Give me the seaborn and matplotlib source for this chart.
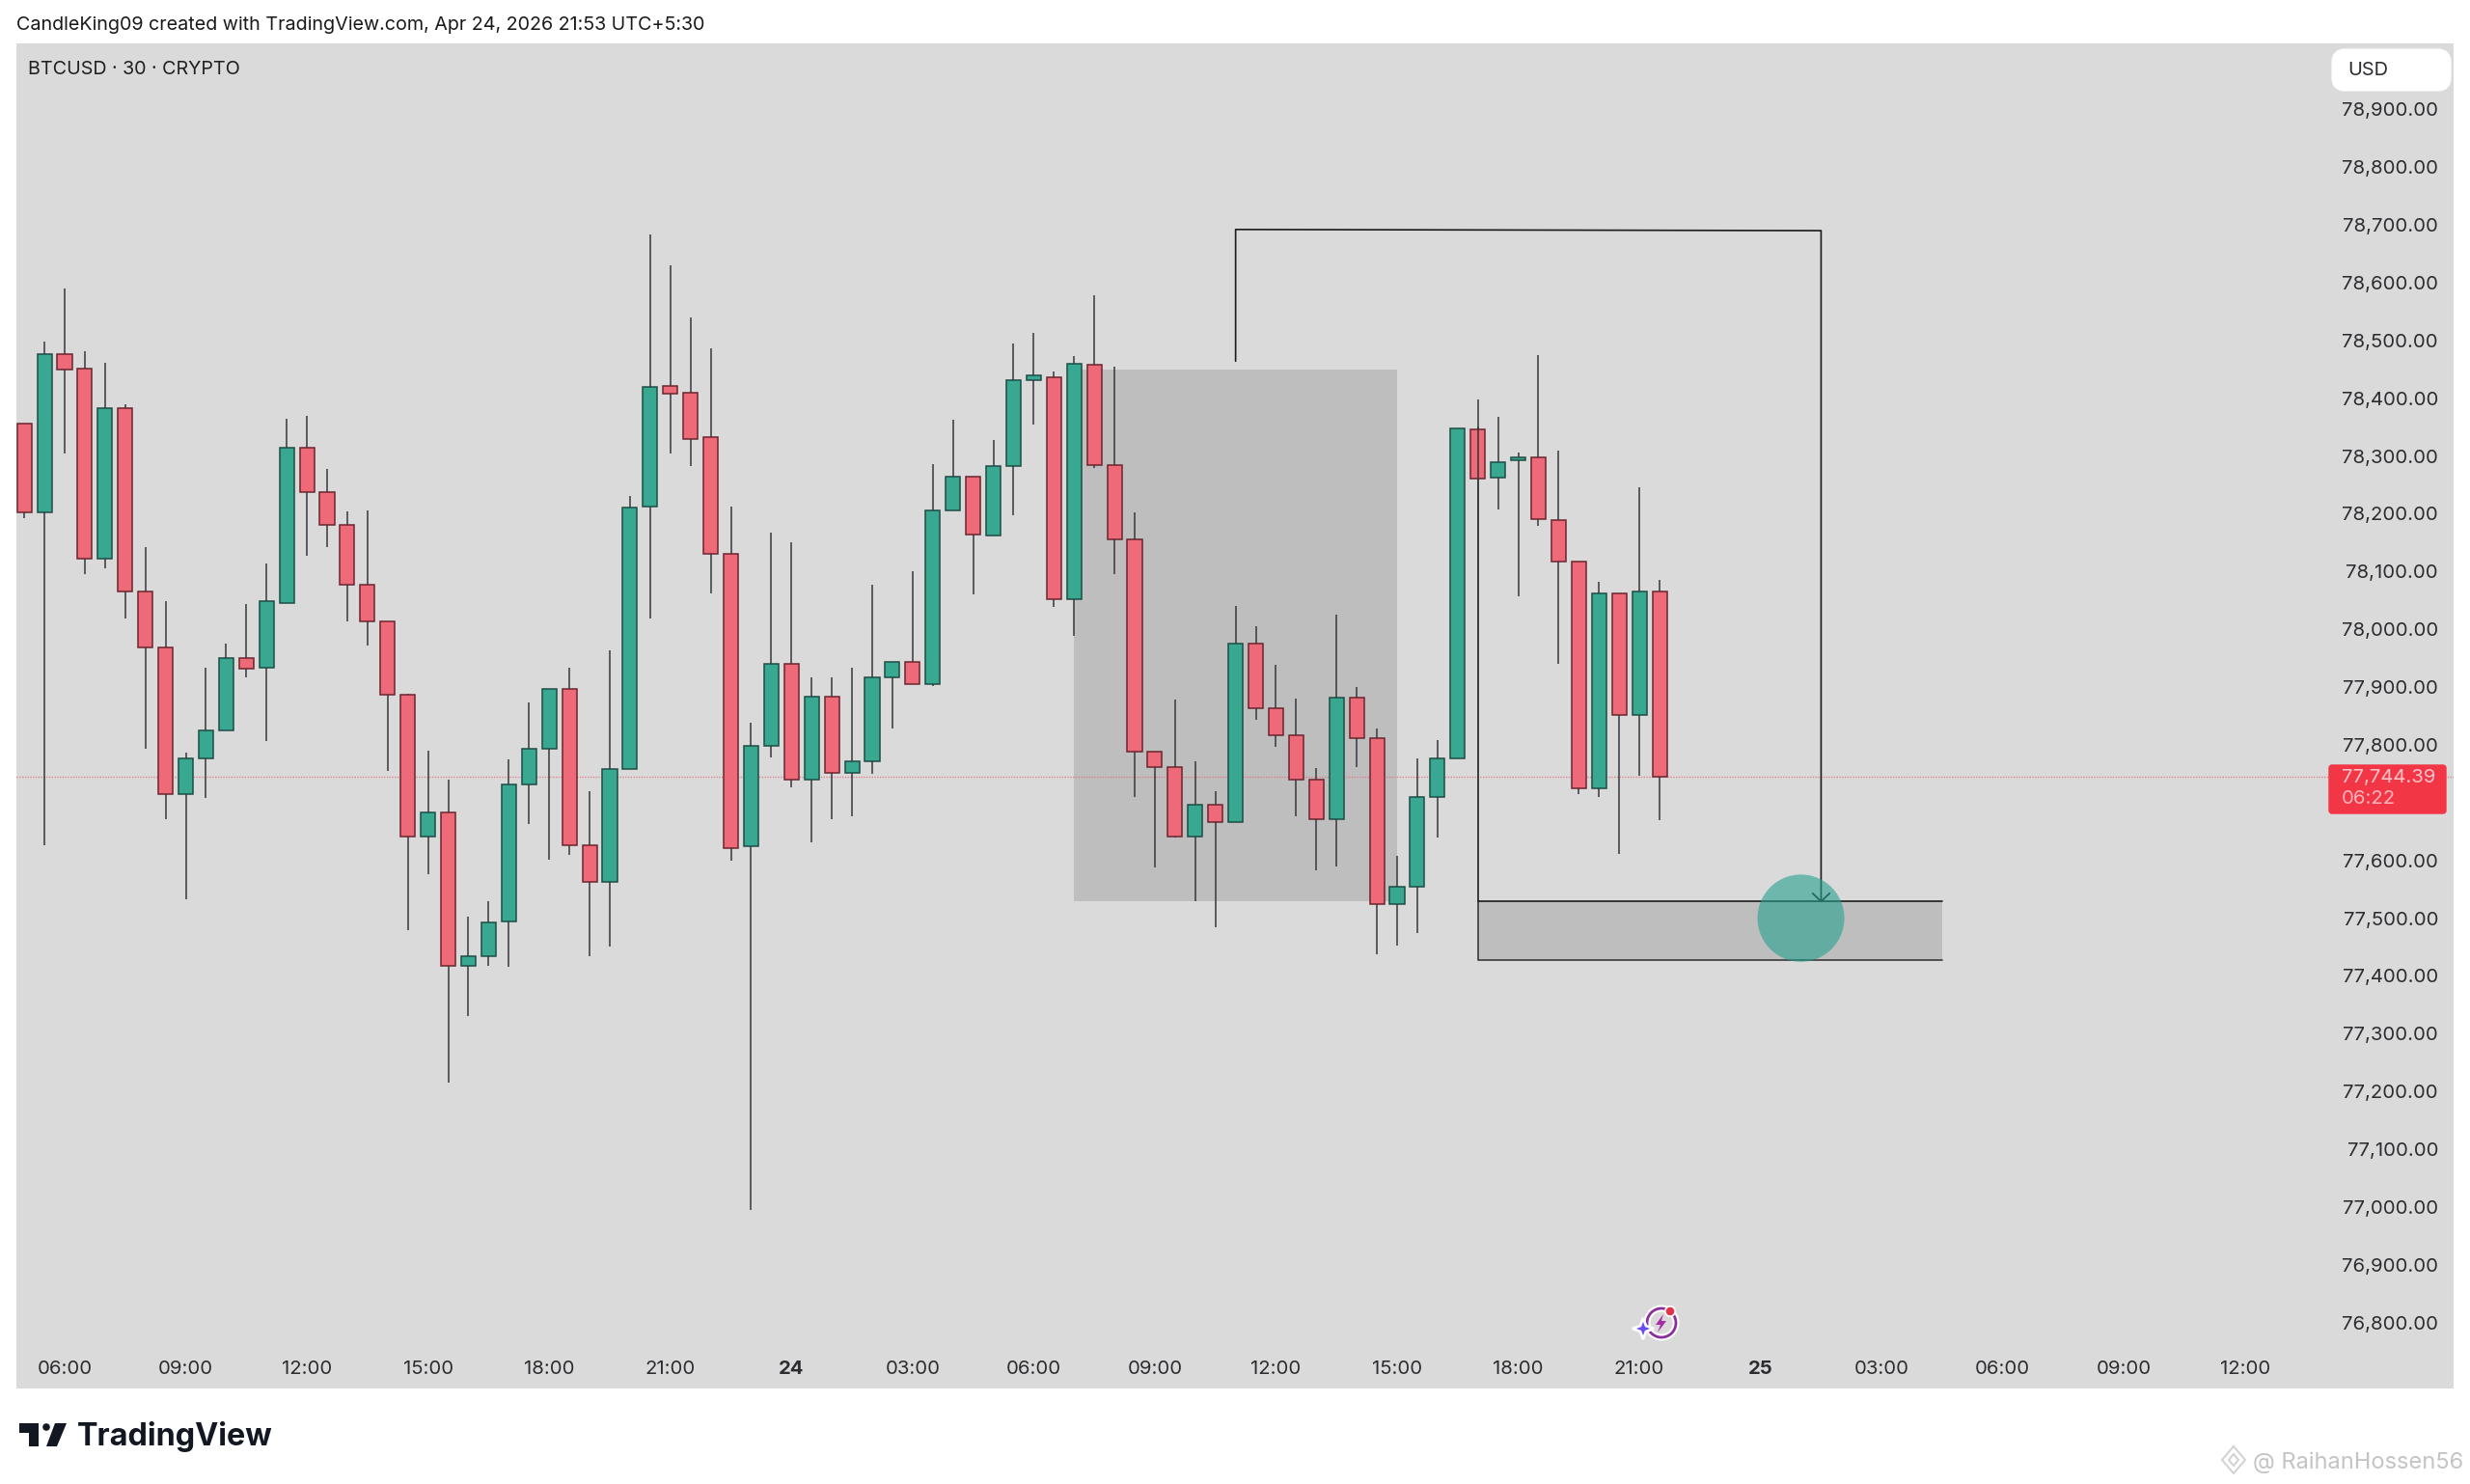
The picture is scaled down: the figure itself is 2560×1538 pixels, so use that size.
import numpy as np
import pandas as pd
import matplotlib
matplotlib.use('Agg')
import matplotlib.pyplot as plt
from matplotlib.patches import Rectangle, Ellipse, Circle, Polygon, FancyBboxPatch
import seaborn as sns

# 30 minute candles
opens = [78356, 78203, 78476, 78451, 78123, 78382, 78066, 77968, 77714, 77777,
         77825, 77950, 77933, 78046, 78314, 78238, 78180, 78077, 78013, 77886,
         77641, 77683, 77418, 77434, 77494, 77731, 77794, 77896, 77627, 77562,
         77758, 78212, 78421, 78409, 78332, 78131, 77624, 77798, 77940, 77739,
         77884, 77751, 77771, 77917, 77944, 77905, 78205, 78264, 78163, 78282,
         78431, 78437, 78052, 78458, 78284, 78155, 77788, 77762, 77642, 77696,
         77666, 77976, 77864, 77816, 77739, 77672, 77882, 77811, 77524, 77554,
         77709, 77776, 78346, 78262, 78292, 78297, 78189, 78118, 77724, 78062,
         77851, 78065]
highs = [78356, 78498, 78589, 78481, 78461, 78389, 78142, 78048, 77787, 77934,
         77975, 78044, 78114, 78364, 78370, 78278, 78204, 78205, 78013, 77889,
         77790, 77740, 77502, 77529, 77775, 77873, 77896, 77934, 77720, 77964,
         78231, 78684, 78630, 78539, 78486, 78213, 77838, 78167, 78150, 77917,
         77916, 77934, 78077, 77944, 78101, 78286, 78362, 78264, 78328, 78495,
         78513, 78446, 78473, 78578, 78455, 78203, 77788, 77879, 77771, 77720,
         78041, 78005, 77939, 77880, 77760, 78025, 77900, 77828, 77608, 77777,
         77809, 78347, 78397, 78368, 78306, 78475, 78310, 78118, 78082, 78062,
         78246, 78086]
lows = [78192, 77627, 78304, 78096, 78106, 78019, 77794, 77671, 77533, 77708,
        77825, 77917, 77807, 78046, 78128, 78142, 78013, 77972, 77754, 77479,
        77576, 77215, 77331, 77418, 77416, 77663, 77602, 77610, 77435, 77451,
        77758, 78018, 78304, 78282, 78062, 77600, 76995, 77778, 77727, 77632,
        77671, 77677, 77750, 77829, 77905, 77901, 78205, 78061, 78163, 78198,
        78355, 78038, 77989, 78279, 78096, 77710, 77588, 77640, 77530, 77485,
        77666, 77844, 77797, 77677, 77582, 77590, 77761, 77438, 77452, 77475,
        77640, 77776, 77529, 78208, 78057, 78179, 77941, 77715, 77710, 77612,
        77747, 77670]
closes = [78203, 78476, 78450, 78123, 78382, 78066, 77969, 77714, 77777, 77825,
          77950, 77932, 78048, 78314, 78238, 78180, 78077, 78013, 77886, 77641,
          77683, 77418, 77434, 77492, 77732, 77794, 77896, 77627, 77562, 77758,
          78210, 78419, 78407, 78330, 78130, 77622, 77798, 77941, 77740, 77884,
          77751, 77771, 77916, 77944, 77905, 78206, 78264, 78164, 78283, 78432,
          78439, 78052, 78459, 78284, 78155, 77788, 77762, 77642, 77696, 77666,
          77976, 77863, 77816, 77739, 77672, 77882, 77812, 77524, 77554, 77709,
          77776, 78347, 78261, 78290, 78297, 78190, 78118, 77724, 78062, 77851,
          78065, 77744.39]

# 77,700 sits under the red price label in the chart, so it has no tick here
price_ticks = [p for p in range(76800, 79000, 100) if p != 77700]
time_ticks = list(range(2, 111, 6))
time_labels = ['06:00', '09:00', '12:00', '15:00', '18:00', '21:00', '24', '03:00', '06:00',
               '09:00', '12:00', '15:00', '18:00', '21:00', '25', '03:00', '06:00', '09:00', '12:00']
last_price = 77744.39

UP = '#38a890'
DOWN = '#ee6a78'
PANEL = '#dadada'
BOX = '#bebebe'
INK = '#2c2c30'

sns.set_theme(style='white')
plt.rcParams['font.family'] = ['Inter', 'DejaVu Sans']

df = pd.DataFrame({'bar': range(len(opens)), 'open': opens, 'high': highs, 'low': lows, 'close': closes})
df['bottom'] = df[['open', 'close']].min(axis=1)
df['body'] = (df['close'] - df['open']).abs()
up = df[df['close'] >= df['open']]
down = df[df['close'] < df['open']]

fig = plt.figure(figsize=(25.6, 15.38), dpi=100, facecolor='white')
# panel goes from 17 to 2543 px across, 45 to 1439 px down
ax = fig.add_axes([17 / 2560, 1 - 1439 / 1538, 2526 / 2560, 1394 / 1538])
ax.set_facecolor(PANEL)

# wicks and bodies
ax.vlines(df['bar'], df['low'], df['high'], color='#38383b', linewidth=1.1, zorder=2)
sns.barplot(data=up, x='bar', y='body', bottom=up['bottom'].values, native_scale=True, color=UP,
            saturation=1, width=0.72, errorbar=None, edgecolor='#1f4c45', linewidth=1.1, zorder=3, ax=ax)
sns.barplot(data=down, x='bar', y='body', bottom=down['bottom'].values, native_scale=True, color=DOWN,
            saturation=1, width=0.72, errorbar=None, edgecolor='#6a2630', linewidth=1.1, zorder=3, ax=ax)

# drawings on top of the chart
ax.add_patch(Rectangle((52, 77530), 16, 920, facecolor=BOX, edgecolor='none', zorder=1))
ax.add_patch(Rectangle((72, 77428), 23, 101, facecolor=BOX, edgecolor='none', zorder=1))
ax.plot([72, 72, 95], [78350, 77428, 77428], color='#3a3a3a', linewidth=1.2, zorder=4)
ax.plot([72, 95], [77529, 77529], color='#1c1c1c', linewidth=1.2, zorder=4)
ax.plot([60, 60, 89, 89], [78464, 78692, 78690, 77530], color='#1c1c1c', linewidth=1.2, zorder=4)
ax.plot([88.58, 89, 89.42], [77543, 77529, 77543], color='#1c1c1c', linewidth=1.3, zorder=4)
ax.add_patch(Ellipse((88.0, 77500), 4.3, 151, facecolor='#26a08f', alpha=0.6, edgecolor='none', zorder=5))
ax.axhline(last_price, color='#e4707c', linewidth=1, linestyle=(0, (1, 1)), alpha=0.8, zorder=1.5)

ax.set_xlim(-0.39, 120.33)
ax.set_ylim(76686, 79014)
ax.set_xlabel('')
ax.set_ylabel('')
sns.despine(ax=ax, left=True, bottom=True, right=True, top=True)

ax.yaxis.tick_right()
ax.set_yticks(price_ticks)
ax.set_yticklabels([f'{p:,.2f}' for p in price_ticks], ha='right', color=INK, fontsize=14.6)
ax.tick_params(axis='y', length=0, pad=-11.5)
ax.set_xticks(time_ticks)
ax.set_xticklabels(time_labels, color=INK, fontsize=14.6)
ax.tick_params(axis='x', length=0, pad=-21)
for lab in ax.get_xticklabels():
    if lab.get_text() in ('24', '25'):
        lab.set_fontweight('bold')

# everything around the chart is placed in screen pixels
chrome = fig.add_axes([0, 0, 1, 1], zorder=10)
chrome.set_xlim(0, 2560)
chrome.set_ylim(1538, 0)
chrome.axis('off')
chrome.patch.set_alpha(0)

chrome.text(17, 26, 'CandleKing09 created with TradingView.com, Apr 24, 2026 21:53 UTC+5:30',
            fontsize=14.2, color='#1a1a1c', va='center')
chrome.text(29, 72, 'BTCUSD · 30 · CRYPTO', fontsize=14.2, color='#1f1f22', va='center')

chrome.add_patch(FancyBboxPatch((2422, 56), 113, 33, boxstyle='round,pad=0,rounding_size=8',
                                mutation_aspect=1, facecolor='white', edgecolor='white', linewidth=8))
chrome.text(2433, 73, 'USD', fontsize=14.4, color=INK, va='center')

chrome.add_patch(FancyBboxPatch((2414, 793), 121, 50, boxstyle='round,pad=0,rounding_size=3',
                                facecolor='#f23645', edgecolor='#f23645', linewidth=1))
chrome.text(2427, 806, f'{last_price:,.2f}', fontsize=14.6, color='#ffc4ca', va='center')
chrome.text(2427, 828, '06:22', fontsize=14.6, color='#ffb4bc', va='center')

# TradingView logo
LOGO = '#131722'
chrome.add_patch(Polygon([(20, 1475), (40, 1475), (40, 1499), (30, 1499), (30, 1485), (20, 1485)],
                         facecolor=LOGO, edgecolor='none'))
chrome.add_patch(Circle((48, 1479), 3.8, facecolor=LOGO, edgecolor='none'))
chrome.add_patch(Polygon([(57, 1475), (69, 1475), (59, 1499), (48, 1499)], facecolor=LOGO, edgecolor='none'))
chrome.text(80, 1489, 'TradingView', fontsize=23.3, fontweight='bold', color=LOGO, va='center')

# little lightning badge
chrome.add_patch(Circle((1722, 1371), 15, facecolor='none', edgecolor='white', linewidth=5))
chrome.add_patch(Circle((1722, 1371), 15, facecolor='none', edgecolor='#8a2f9c', linewidth=2))
chrome.add_patch(Polygon([(1724, 1362), (1716, 1373), (1721, 1373), (1718, 1381), (1727, 1369), (1722, 1369)],
                         facecolor='#a52ca8', edgecolor='none'))
chrome.add_patch(Circle((1731, 1359), 6, facecolor='white', edgecolor='none'))
chrome.add_patch(Circle((1731, 1359), 4.3, facecolor='#e2334a', edgecolor='none'))
star = [(1703, 1366), (1706, 1374), (1714, 1377), (1706, 1380), (1703, 1388), (1700, 1380), (1692, 1377), (1700, 1374)]
chrome.add_patch(Polygon(star, facecolor='#6a4cf0', edgecolor='white', linewidth=2))

# watermark
chrome.add_patch(Polygon([(2315, 1499), (2327, 1513), (2315, 1527), (2303, 1513)],
                         facecolor='none', edgecolor='#d4d4d4', linewidth=1.5))
chrome.add_patch(Polygon([(2315, 1507), (2320, 1513), (2315, 1519), (2310, 1513)],
                         facecolor='none', edgecolor='#d4d4d4', linewidth=1.5))
chrome.text(2335, 1516, '@ RaihanHossen56', fontsize=17, color='#c4c4c4', va='center')

fig.savefig('out.png', dpi=100, facecolor='white')
